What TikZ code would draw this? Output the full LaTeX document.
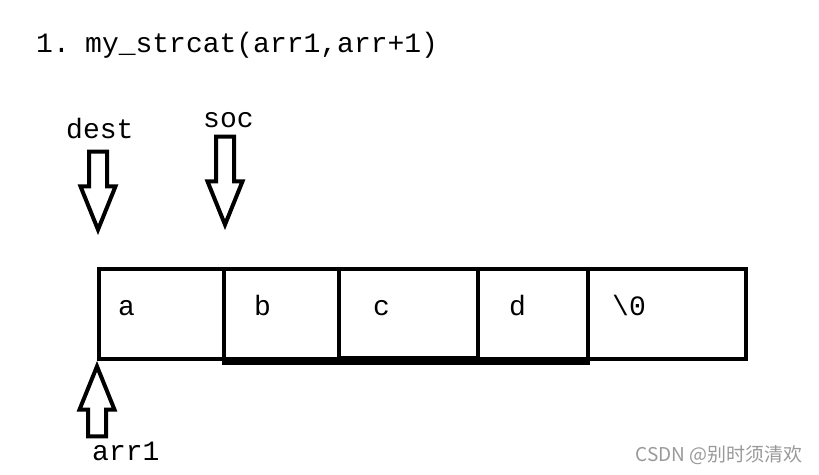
\documentclass[tikz,border=0pt]{standalone}
\usepackage{fontspec}
\newfontfamily\codefont{Liberation Mono}
\newfontfamily\cjkfont{Noto Sans CJK SC}
\usetikzlibrary{shapes.arrows}
\tikzset{
  cell/.style={draw,line width=4pt,minimum width=#1,minimum height=90pt,inner sep=0pt,anchor=north west},
  txt/.style={inner sep=0pt,anchor=base west,font=\codefont\fontsize{28}{30}\selectfont},
  ptr/.style={draw,line width=4pt,single arrow,inner sep=7pt,single arrow head extend=8.5pt,
    single arrow tip angle=44,minimum height=#1,anchor=tip}
}
\begin{document}
\begin{tikzpicture}[x=1pt,y=-1pt]
\useasboundingbox (0,0) rectangle (819,474);
\node[txt] (num) at (36,52) {1.};
\node[txt] (call) at (85,52) {my\_strcat(arr1,arr+1)};
\node[cell=125pt] (ca) at (97,267) {};
\node[cell=115pt] (cb) at (222,267) {};
\node[cell=139pt] (cc) at (337,267) {};
\node[cell=110pt] (cd) at (476,267) {};
\node[cell=158pt] (ce) at (586,267) {};
\draw[line width=4pt] ([yshift=-2pt]cb.south west) -- ([yshift=-2pt]cd.south east);
\fill ([yshift=-4pt]cc.south west) rectangle ([yshift=5pt]cc.south east);
\node[txt] (ta) at (118,315) {a};
\node[txt] (tb) at (254,315) {b};
\node[txt] (tc) at (373,315) {c};
\node[txt] (td) at (509,315) {d};
\node[txt] (te) at (612,315) {\textbackslash0};
\node[txt] (dest) at (66,138) {dest};
\node[txt] (soc) at (203,127) {soc};
\node[txt] (arr) at (92,460) {arr1};
\node[ptr=78pt,rotate=-90] (pdest) at (98,235) {};
\node[ptr=88pt,rotate=-90] (psoc) at (225,230) {};
\node[ptr=70pt,rotate=90] (parr) at (ca.south west) {};
\node[anchor=base east,inner sep=0pt,text=gray!80,font=\cjkfont\fontsize{19}{21}\selectfont] (mark) at (803,461) {CSDN @别时须清欢};
\end{tikzpicture}
\end{document}
